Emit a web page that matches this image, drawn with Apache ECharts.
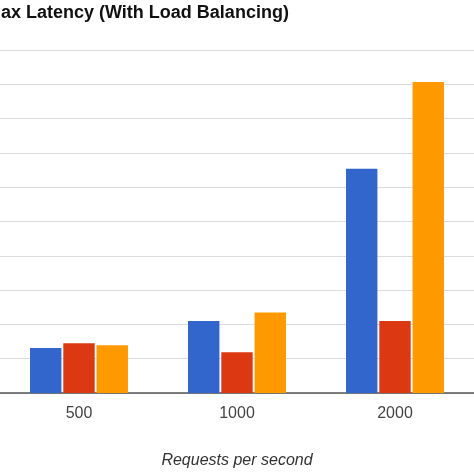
<!DOCTYPE html>
<html><head><meta charset="utf-8">
<script src="https://cdn.jsdelivr.net/npm/echarts@6/dist/echarts.min.js"></script>
<style>html,body{margin:0;padding:0;background:#fff}#c{width:474px;height:474px}</style>
</head><body><div id="c"></div>
<script>
const categories = ['500', '1000', '2000'];
const seriesA = [1.31, 2.1, 6.54];
const seriesB = [1.45, 1.19, 2.1];
const seriesC = [1.39, 2.35, 9.07];
const colors = ['#3366cc', '#dc3912', '#ff9900'];
const chart = echarts.init(document.getElementById('c'));
chart.setOption({
  animation: false,
  title: { text: 'Max Latency (With Load Balancing)', left: -19, top: -1,
    textStyle: { fontFamily: 'Liberation Sans, Arial', fontSize: 18, fontWeight: 'bold', color: '#111' } },
  grid: { left: -12, top: 50, right: -45, bottom: 80 },
  xAxis: { type: 'category', data: categories,
    axisLine: { lineStyle: { color: '#555', width: 1.5 } }, axisTick: { show: false },
    axisLabel: { fontFamily: 'Liberation Sans, Arial', fontSize: 16, color: '#444', margin: 13 },
    name: 'Requests per second', nameLocation: 'middle', nameGap: 60,
    nameTextStyle: { fontFamily: 'Liberation Sans, Arial', fontSize: 16, fontStyle: 'italic', color: '#333' } },
  yAxis: { type: 'value', min: 0, max: 10, interval: 1,
    axisLabel: { show: false }, axisLine: { show: false }, axisTick: { show: false },
    splitLine: { lineStyle: { color: '#dcdcdc', width: 1 } } },
  series: [seriesA, seriesB, seriesC].map((d, i) => ({
    type: 'bar', data: d, barGap: '6%', barCategoryGap: '38%', itemStyle: { color: colors[i] }
  }))
});
</script></body></html>
